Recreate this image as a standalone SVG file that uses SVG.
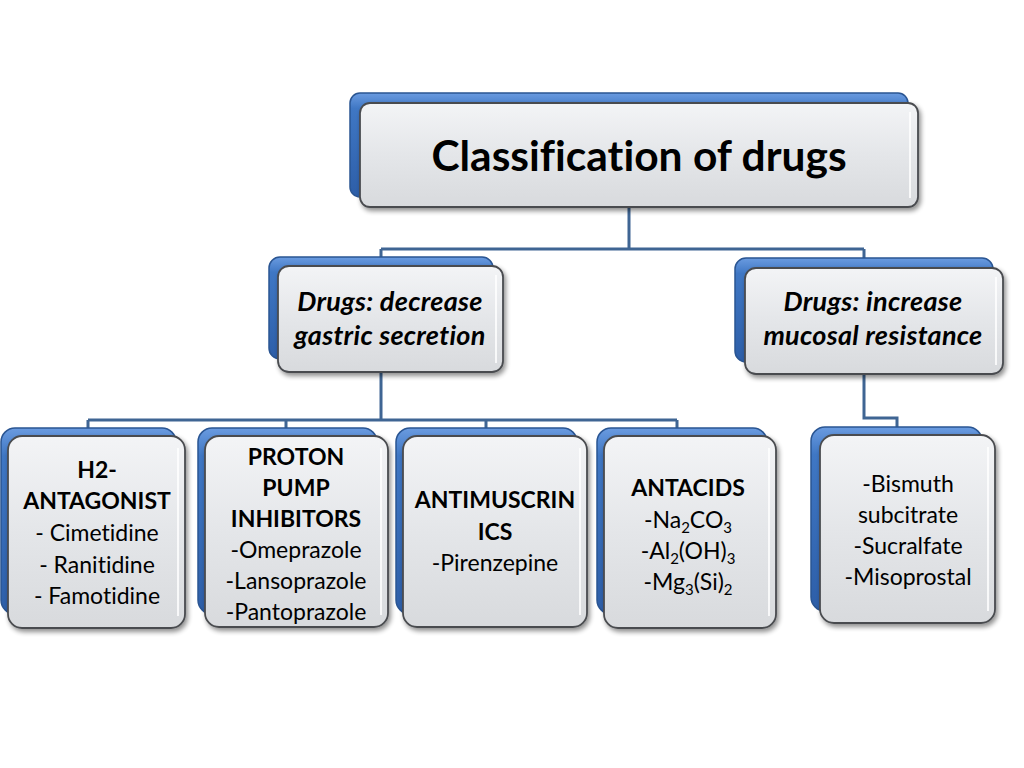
<svg xmlns="http://www.w3.org/2000/svg" width="1024" height="768" viewBox="0 0 1024 768">
<defs>
  <linearGradient id="blue" x1="0" y1="0" x2="0" y2="1">
    <stop offset="0" stop-color="#6a9be0"/>
    <stop offset="0.15" stop-color="#3f77c4"/>
    <stop offset="1" stop-color="#2d5ea8"/>
  </linearGradient>
  <linearGradient id="face" x1="0" y1="0" x2="0" y2="1">
    <stop offset="0" stop-color="#f3f4f6"/>
    <stop offset="0.5" stop-color="#e4e6e9"/>
    <stop offset="1" stop-color="#d8dadd"/>
  </linearGradient>
  <filter id="sh" x="-10%" y="-10%" width="125%" height="130%">
    <feGaussianBlur in="SourceAlpha" stdDeviation="2.5"/>
    <feOffset dx="2" dy="3" result="b"/>
    <feComponentTransfer><feFuncA type="linear" slope="0.45"/></feComponentTransfer>
    <feMerge><feMergeNode/><feMergeNode in="SourceGraphic"/></feMerge>
  </filter>
</defs>
<style>
  .back{fill:url(#blue);stroke:#2a5592;stroke-width:1.5}
  .front{fill:url(#face);stroke:#4a4c50;stroke-width:1.8;filter:url(#sh)}
  .hl{fill:none;stroke:#ffffff;stroke-opacity:0.8;stroke-width:2}
  .conn{fill:none;stroke:#3f6593;stroke-width:3}
  text{font-family:Lato,"Open Sans","Liberation Sans",sans-serif;fill:#000;text-anchor:middle;font-variant-ligatures:none;font-feature-settings:"liga" 0,"dlig" 0}
  .title{font-size:42.5px;font-weight:bold}
  .mid{font-size:27px;font-weight:bold;font-style:italic;letter-spacing:0.3px}
  .leaf{font-size:23px}
  .b{font-weight:bold}
</style>

<g id="connectors">
  <path class="conn" d="M629 207 V249 M381 249 H864 M381 249 V258 M864 249 V259"/>
  <path class="conn" d="M381 372 V420 M88 420 H677 M88 420 V429 M286 420 V429 M486 420 V429 M677 420 V429"/>
  <path class="conn" d="M864 374 V418 H897 V428"/>
</g>

<g id="root">
  <rect class="back" x="350" y="93" width="558" height="104" rx="10"/>
  <rect class="front" x="360" y="103" width="558" height="104" rx="10"/>
  <path class="hl" d="M910 112 V198"/>
  <text class="title" x="639" y="171">Classification of drugs</text>
</g>

<g id="decrease">
  <rect class="back" x="269" y="257" width="224" height="102" rx="11"/>
  <rect class="front" x="278" y="266" width="225" height="106" rx="11"/>
  <path class="hl" d="M496 275 V363"/>
  <text class="mid" x="390" y="311">Drugs: decrease</text>
  <text class="mid" x="390" y="345">gastric secretion</text>
</g>

<g id="increase">
  <rect class="back" x="735" y="258" width="258" height="104" rx="11"/>
  <rect class="front" x="745" y="268" width="258" height="106" rx="11"/>
  <path class="hl" d="M996 277 V365"/>
  <text class="mid" x="873" y="311">Drugs: increase</text>
  <text class="mid" x="873" y="345">mucosal resistance</text>
</g>

<g id="h2">
  <rect class="back" x="1" y="428" width="175" height="186" rx="14"/>
  <rect class="front" x="8" y="436" width="177" height="192" rx="14"/>
  <path class="hl" d="M178 448 V616"/>
  <text class="leaf b" x="97" y="478">H2-</text>
  <text class="leaf b" x="97" y="509">ANTAGONIST</text>
  <text class="leaf" x="97" y="541">- Cimetidine</text>
  <text class="leaf" x="97" y="573">- Ranitidine</text>
  <text class="leaf" x="97" y="604">- Famotidine</text>
</g>

<g id="ppi">
  <rect class="back" x="198" y="428" width="179" height="186" rx="14"/>
  <rect class="front" x="205" y="436" width="183" height="191" rx="14"/>
  <path class="hl" d="M381 448 V615"/>
  <text class="leaf b" x="296" y="465">PROTON</text>
  <text class="leaf b" x="296" y="496">PUMP</text>
  <text class="leaf b" x="296" y="527">INHIBITORS</text>
  <text class="leaf" x="296" y="558">-Omeprazole</text>
  <text class="leaf" x="296" y="589">-Lansoprazole</text>
  <text class="leaf" x="296" y="620">-Pantoprazole</text>
</g>

<g id="antimuscarinics">
  <rect class="back" x="396" y="428" width="181" height="186" rx="14"/>
  <rect class="front" x="403" y="436" width="184" height="191" rx="14"/>
  <path class="hl" d="M580 448 V615"/>
  <text class="leaf b" x="495" y="508">ANTIMUSCRIN</text>
  <text class="leaf b" x="495" y="540">ICS</text>
  <text class="leaf" x="495" y="571">-Pirenzepine</text>
</g>

<g id="antacids">
  <rect class="back" x="597" y="428" width="170" height="186" rx="14"/>
  <rect class="front" x="604" y="436" width="172" height="192" rx="14"/>
  <path class="hl" d="M769 448 V616"/>
  <text class="leaf b" x="688" y="496">ANTACIDS</text>
  <text class="leaf" x="688" y="528">-Na<tspan font-size="15" dy="5">2</tspan><tspan dy="-5">CO</tspan><tspan font-size="15" dy="5">3</tspan></text>
  <text class="leaf" x="688" y="559">-Al<tspan font-size="15" dy="5">2</tspan><tspan dy="-5">(OH)</tspan><tspan font-size="15" dy="5">3</tspan></text>
  <text class="leaf" x="688" y="590">-Mg<tspan font-size="15" dy="5">3</tspan><tspan dy="-5">(Si)</tspan><tspan font-size="15" dy="5">2</tspan></text>
</g>

<g id="mucosal">
  <rect class="back" x="811" y="427" width="171" height="184" rx="14"/>
  <rect class="front" x="820" y="435" width="175" height="188" rx="14"/>
  <path class="hl" d="M988 447 V611"/>
  <text class="leaf" x="908" y="492">-Bismuth</text>
  <text class="leaf" x="908" y="523">subcitrate</text>
  <text class="leaf" x="908" y="554">-Sucralfate</text>
  <text class="leaf" x="908" y="585">-Misoprostal</text>
</g>
</svg>
